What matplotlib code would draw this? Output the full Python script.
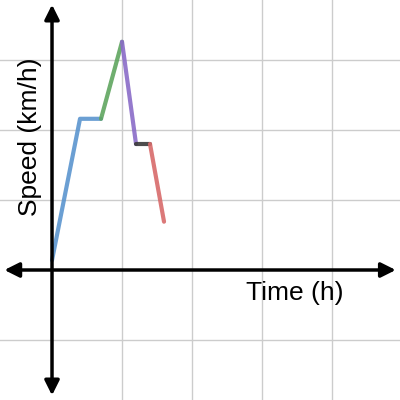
import matplotlib
matplotlib.use("Agg")
import matplotlib.pyplot as plt

# segments: (x list, y list, colour)
seg_x = [[0, 0.4, 0.7], [0.7, 1.0], [1.0, 1.2], [1.2, 1.4], [1.4, 1.6]]
seg_y = [[0.14, 2.16, 2.16], [2.16, 3.26], [3.26, 1.8], [1.8, 1.8], [1.8, 0.69]]
seg_c = ["#5b95cf", "#5fa55f", "#8a6cc8", "#3a3a3a", "#d86a6a"]

fig = plt.figure(figsize=(4, 4), dpi=100)
ax = fig.add_axes([0, 0, 1, 1])
ax.set_xlim(-0.743, 4.971)
ax.set_ylim(-1.857, 3.857)
for v in [-1, 1, 2, 3, 4]:
    ax.axvline(v, color="#cccccc", lw=1, zorder=0)
for v in [-1, 1, 2, 3]:
    ax.axhline(v, color="#cccccc", lw=1, zorder=0)
ax.annotate("", xy=(-0.72, 0), xytext=(4.95, 0),
            arrowprops=dict(arrowstyle="<|-|>", color="black", lw=2.5, mutation_scale=22))
ax.annotate("", xy=(0, -1.83), xytext=(0, 3.83),
            arrowprops=dict(arrowstyle="<|-|>", color="black", lw=2.5, mutation_scale=22))
for xs, ys, c in zip(seg_x, seg_y, seg_c):
    ax.plot(xs, ys, color=c, lw=3, solid_capstyle="round", alpha=0.9)
ax.text(-0.31, 1.9, "Speed (km/h)", rotation=90, fontsize=19, ha="center", va="center",
        family="Liberation Sans")
ax.text(3.47, -0.33, "Time (h)", fontsize=19, ha="center", va="center",
        family="Liberation Sans")
ax.axis("off")
fig.savefig("out.png", dpi=100)
